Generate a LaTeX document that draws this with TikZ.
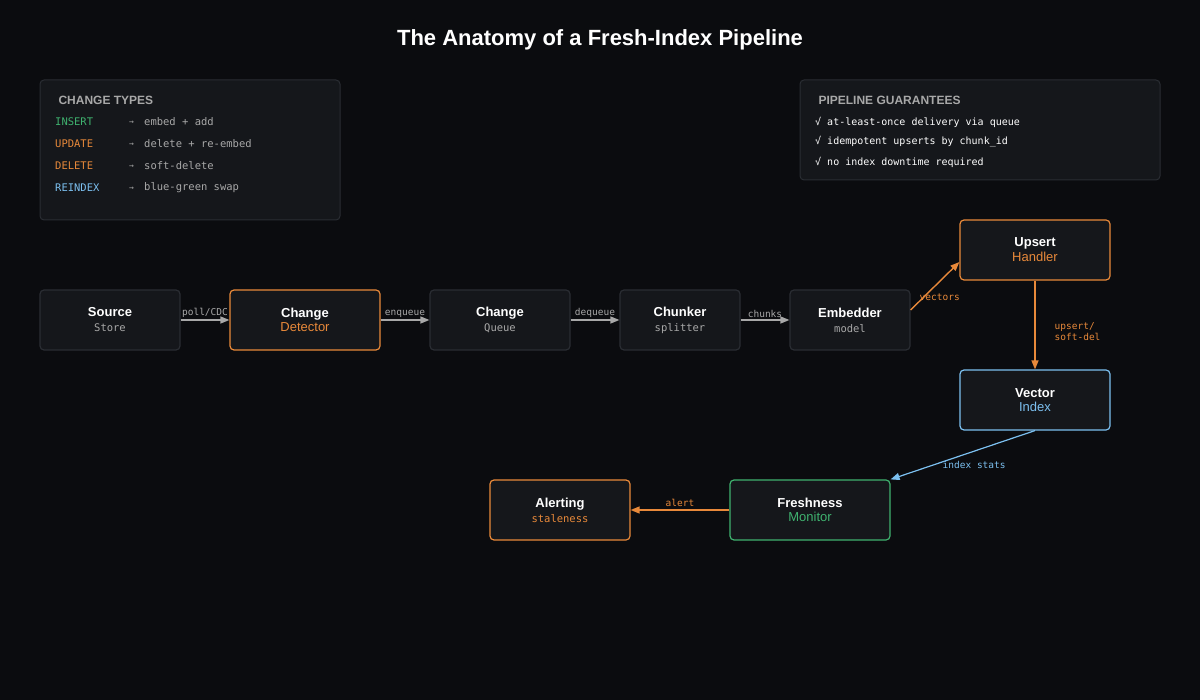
\documentclass[tikz,border=0pt]{standalone}
\usepackage{fontspec}
\setmainfont{Liberation Sans}
\setmonofont{DejaVu Sans Mono}
\usetikzlibrary{arrows.meta}
\definecolor{bg}{HTML}{0B0C0F}
\definecolor{boxfill}{HTML}{15171B}
\definecolor{boxline}{HTML}{2A2D33}
\definecolor{accorange}{HTML}{E8893A}
\definecolor{accgreen}{HTML}{3FB26F}
\definecolor{accblue}{HTML}{7CC0F0}
\definecolor{txtgray}{HTML}{A8A8A8}
\tikzset{
  stage/.style={draw=boxline, fill=boxfill, rounded corners=4pt, line width=1.2pt,
    minimum height=60pt, align=center, inner sep=0pt},
  title/.style={font=\fontsize{13}{16}\selectfont\bfseries, text=white},
  sub/.style={font=\fontsize{13}{16}\selectfont},
  msub/.style={font=\ttfamily\fontsize{10.5}{13}\selectfont, text=txtgray},
  flow/.style={-{Triangle[length=9pt,width=7pt]}, line width=1.3pt, draw=txtgray},
  elabel/.style={font=\ttfamily\fontsize{9.5}{11}\selectfont, text=txtgray, inner sep=1.5pt},
  panel/.style={draw=boxline, fill=boxfill, rounded corners=4pt, line width=1pt},
  legtext/.style={font=\ttfamily\fontsize{10.5}{13}\selectfont, anchor=west, inner sep=0pt}
}
\begin{document}
\begin{tikzpicture}[x=1pt, y=-1pt]
    \fill[bg] (0,0) rectangle (1200,700);
    \useasboundingbox (0,0) rectangle (1200,700);

    % Title
    \node[font=\fontsize{22}{26}\selectfont\bfseries, text=white] (heading) at (600,40) {The Anatomy of a Fresh-Index Pipeline};

    % Change types panel
    \draw[panel] (40,80) rectangle (340,220);
    \node[font=\fontsize{12}{14}\selectfont\bfseries, text=txtgray, anchor=west] (typeshead) at (55,100) {CHANGE TYPES};
    \foreach \kind/\col/\what/\y in {INSERT/accgreen/embed + add/122, UPDATE/accorange/delete + re-embed/144,
        DELETE/accorange/soft-delete/166, REINDEX/accblue/blue-green swap/188} {
        \node[legtext, text=\col] at (55,\y) {\kind};
        \node[legtext, text=txtgray] at (129,\y+1) {\fontsize{8}{10}\selectfont→};
        \node[legtext, text=txtgray] at (144,\y) {\what};
    }

    % Guarantees panel
    \draw[panel] (800,80) rectangle (1160,180);
    \node[font=\fontsize{12}{14}\selectfont\bfseries, text=txtgray, anchor=west] (guarhead) at (815,100) {PIPELINE GUARANTEES};
    \foreach \what/\y in {at-least-once delivery via queue/122, idempotent upserts by chunk\_id/142,
        no index downtime required/162} {
        \node[legtext, text=white, font=\ttfamily\fontsize{10}{12}\selectfont] at (815,\y) {√ \what};
    }

    % Pipeline stages
    \node[stage, minimum width=140pt] (source) at (110,320) {\textcolor{white}{\fontsize{13}{16}\selectfont\bfseries Source}\\[3pt]{\ttfamily\fontsize{10.5}{13}\selectfont\color{txtgray}Store}};
    \node[stage, draw=accorange, minimum width=150pt] (detector) at (305,320) {\textcolor{white}{\fontsize{13}{16}\selectfont\bfseries Change}\\[2pt]{\fontsize{13}{16}\selectfont\color{accorange}Detector}};
    \node[stage, minimum width=140pt] (queue) at (500,320) {\textcolor{white}{\fontsize{13}{16}\selectfont\bfseries Change}\\[3pt]{\ttfamily\fontsize{10.5}{13}\selectfont\color{txtgray}Queue}};
    \node[stage, minimum width=120pt] (chunker) at (680,320) {\textcolor{white}{\fontsize{13}{16}\selectfont\bfseries Chunker}\\[3pt]{\ttfamily\fontsize{10.5}{13}\selectfont\color{txtgray}splitter}};
    \node[stage, minimum width=120pt] (embedder) at (850,320) {\textcolor{white}{\fontsize{13}{16}\selectfont\bfseries Embedder}\\[3pt]{\ttfamily\fontsize{10.5}{13}\selectfont\color{txtgray}model}};
    \node[stage, draw=accorange, minimum width=150pt] (upsert) at (1035,250) {\textcolor{white}{\fontsize{13}{16}\selectfont\bfseries Upsert}\\[2pt]{\fontsize{13}{16}\selectfont\color{accorange}Handler}};
    \node[stage, draw=accblue, minimum width=150pt] (vindex) at (1035,400) {\textcolor{white}{\fontsize{13}{16}\selectfont\bfseries Vector}\\[2pt]{\fontsize{13}{16}\selectfont\color{accblue}Index}};
    \node[stage, draw=accgreen, minimum width=160pt] (monitor) at (810,510) {\textcolor{white}{\fontsize{13}{16}\selectfont\bfseries Freshness}\\[2pt]{\fontsize{13}{16}\selectfont\color{accgreen}Monitor}};
    \node[stage, draw=accorange, minimum width=140pt] (alerting) at (560,510) {\textcolor{white}{\fontsize{13}{16}\selectfont\bfseries Alerting}\\[3pt]{\ttfamily\fontsize{10.5}{13}\selectfont\color{accorange}staleness}};

    % Connectors
    \draw[flow] (source) -- node[elabel, above] {poll/CDC} (detector);
    \draw[flow] (detector) -- node[elabel, above] {enqueue} (queue);
    \draw[flow] (queue) -- node[elabel, above] {dequeue} (chunker);
    \draw[flow] (chunker) -- node[elabel, above] {chunks} (embedder);
    \draw[flow, draw=accorange, line width=1.4pt] ([yshift=10pt]embedder.east) -- ([yshift=-12pt]upsert.west);
    \node[elabel, text=accorange, anchor=west] (veclabel) at (918,297) {vectors};
    \draw[flow, draw=accorange, line width=1.4pt] (upsert) -- (vindex);
    \node[elabel, text=accorange, anchor=west, align=left] (upslabel) at (1053,332) {upsert/\\soft-del};
    \draw[flow, draw=accblue, line width=1.2pt] (vindex.south) -- (monitor.north east);
    \node[elabel, text=accblue, anchor=west] (statlabel) at (941,465) {index stats};
    \draw[flow, draw=accorange, line width=1.4pt] (monitor) -- node[elabel, text=accorange, above=1pt] {alert} (alerting);
\end{tikzpicture}
\end{document}
